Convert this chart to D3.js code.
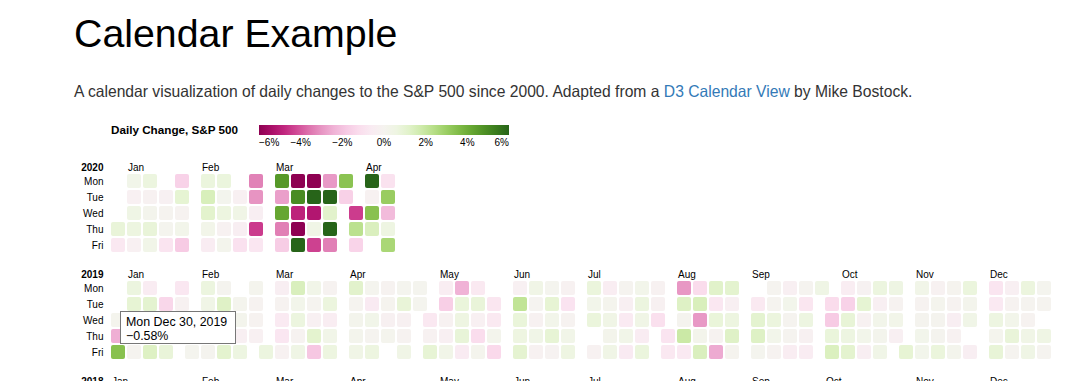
<!DOCTYPE html>
<html>
<head>
<meta charset="utf-8">
<script src="https://cdn.jsdelivr.net/npm/d3@7"></script>
<style>
  html, body { margin: 0; padding: 0; background: #fff; overflow: hidden; }
  body { width: 1079px; height: 381px; position: relative; font-family: "Liberation Sans", Arial, Helvetica, sans-serif; }
  h1 { position: absolute; left: 74px; top: 9px; margin: 0; font-weight: normal; font-size: 39.3px; color: #000; line-height: 48px; }
  p.sub { position: absolute; left: 74px; top: 82px; margin: 0; font-size: 15.66px; color: #333; line-height: 20px; white-space: nowrap; }
  p.sub a { color: #337ab7; text-decoration: none; }
  #chart { position: absolute; left: 0; top: 0; }
  #tip { position: absolute; left: 120px; top: 311px; width: 109px; height: 31px; padding: 0 0 0 5px; border: 1px solid #777; background: #fff; font-size: 12.4px; line-height: 14px; color: #000; box-sizing: content-box; }
  #tip div:first-child { margin-top: 3px; }
</style>
</head>
<body>
<h1>Calendar Example</h1>
<p class="sub">A calendar visualization of daily changes to the S&amp;P 500 since 2000. Adapted from a <a href="#">D3 Calendar View</a> by Mike Bostock.</p>
<svg id="chart" width="1052" height="381"></svg>
<div id="tip"><div>Mon Dec 30, 2019</div><div>−0.58%</div></div>
<script>
// ---------- data (daily % change of the S&P 500) ----------
const dates2020 = [
  "2020-01-02","2020-01-03","2020-01-06","2020-01-07","2020-01-08","2020-01-09","2020-01-10","2020-01-13","2020-01-14","2020-01-15","2020-01-16","2020-01-17","2020-01-21","2020-01-22","2020-01-23","2020-01-24","2020-01-27","2020-01-28","2020-01-29","2020-01-30","2020-01-31",
  "2020-02-03","2020-02-04","2020-02-05","2020-02-06","2020-02-07","2020-02-10","2020-02-11","2020-02-12","2020-02-13","2020-02-14","2020-02-18","2020-02-19","2020-02-20","2020-02-21","2020-02-24","2020-02-25","2020-02-26","2020-02-27","2020-02-28",
  "2020-03-02","2020-03-03","2020-03-04","2020-03-05","2020-03-06","2020-03-09","2020-03-10","2020-03-11","2020-03-12","2020-03-13","2020-03-16","2020-03-17","2020-03-18","2020-03-19","2020-03-20","2020-03-23","2020-03-24","2020-03-25","2020-03-26","2020-03-27","2020-03-30","2020-03-31",
  "2020-04-01","2020-04-02","2020-04-03","2020-04-06","2020-04-07","2020-04-08","2020-04-09","2020-04-13","2020-04-14","2020-04-15","2020-04-16","2020-04-17"
];
const change2020 = [
  0.84,-0.71,0.35,-0.28,0.49,0.67,-0.29,0.70,-0.15,0.19,0.84,0.39,-0.27,0.03,0.11,-0.90,-1.57,1.01,-0.09,0.31,-1.77,
  0.73,1.50,1.13,0.33,-0.54,0.73,0.17,0.65,-0.16,0.18,-0.29,0.47,-0.38,-1.05,-3.35,-3.03,-0.38,-4.42,-0.82,
  4.60,-2.81,4.22,-3.39,-1.71,-7.60,4.94,-4.89,-9.51,9.29,-11.98,6.00,-5.18,0.47,-4.34,-2.93,9.38,1.15,6.24,-3.37,3.35,-1.60,
  -4.41,2.28,-1.51,7.03,-0.16,3.41,1.45,-1.01,3.06,-2.20,0.58,2.68
];
const dates2019 = [
  "2019-01-02","2019-01-03","2019-01-04","2019-01-07","2019-01-08","2019-01-09","2019-01-10","2019-01-11","2019-01-14","2019-01-15","2019-01-16","2019-01-17","2019-01-18","2019-01-22","2019-01-23","2019-01-24","2019-01-25","2019-01-28","2019-01-29","2019-01-30","2019-01-31",
  "2019-02-01","2019-02-04","2019-02-05","2019-02-06","2019-02-07","2019-02-08","2019-02-11","2019-02-12","2019-02-13","2019-02-14","2019-02-15","2019-02-19","2019-02-20","2019-02-21","2019-02-22","2019-02-25","2019-02-26","2019-02-27","2019-02-28",
  "2019-03-01","2019-03-04","2019-03-05","2019-03-06","2019-03-07","2019-03-08","2019-03-11","2019-03-12","2019-03-13","2019-03-14","2019-03-15","2019-03-18","2019-03-19","2019-03-20","2019-03-21","2019-03-22","2019-03-25","2019-03-26","2019-03-27","2019-03-28","2019-03-29",
  "2019-04-01","2019-04-02","2019-04-03","2019-04-04","2019-04-05","2019-04-08","2019-04-09","2019-04-10","2019-04-11","2019-04-12","2019-04-15","2019-04-16","2019-04-17","2019-04-18","2019-04-22","2019-04-23","2019-04-24","2019-04-25","2019-04-26","2019-04-29","2019-04-30",
  "2019-05-01","2019-05-02","2019-05-03","2019-05-06","2019-05-07","2019-05-08","2019-05-09","2019-05-10","2019-05-13","2019-05-14","2019-05-15","2019-05-16","2019-05-17","2019-05-20","2019-05-21","2019-05-22","2019-05-23","2019-05-24","2019-05-28","2019-05-29","2019-05-30","2019-05-31",
  "2019-06-03","2019-06-04","2019-06-05","2019-06-06","2019-06-07","2019-06-10","2019-06-11","2019-06-12","2019-06-13","2019-06-14","2019-06-17","2019-06-18","2019-06-19","2019-06-20","2019-06-21","2019-06-24","2019-06-25","2019-06-26","2019-06-27","2019-06-28",
  "2019-07-01","2019-07-02","2019-07-03","2019-07-05","2019-07-08","2019-07-09","2019-07-10","2019-07-11","2019-07-12","2019-07-15","2019-07-16","2019-07-17","2019-07-18","2019-07-19","2019-07-22","2019-07-23","2019-07-24","2019-07-25","2019-07-26","2019-07-29","2019-07-30","2019-07-31",
  "2019-08-01","2019-08-02","2019-08-05","2019-08-06","2019-08-07","2019-08-08","2019-08-09","2019-08-12","2019-08-13","2019-08-14","2019-08-15","2019-08-16","2019-08-19","2019-08-20","2019-08-21","2019-08-22","2019-08-23","2019-08-26","2019-08-27","2019-08-28","2019-08-29","2019-08-30",
  "2019-09-03","2019-09-04","2019-09-05","2019-09-06","2019-09-09","2019-09-10","2019-09-11","2019-09-12","2019-09-13","2019-09-16","2019-09-17","2019-09-18","2019-09-19","2019-09-20","2019-09-23","2019-09-24","2019-09-25","2019-09-26","2019-09-27","2019-09-30",
  "2019-10-01","2019-10-02","2019-10-03","2019-10-04","2019-10-07","2019-10-08","2019-10-09","2019-10-10","2019-10-11","2019-10-14","2019-10-15","2019-10-16","2019-10-17","2019-10-18","2019-10-21","2019-10-22","2019-10-23","2019-10-24","2019-10-25","2019-10-28","2019-10-29","2019-10-30","2019-10-31",
  "2019-11-01","2019-11-04","2019-11-05","2019-11-06","2019-11-07","2019-11-08","2019-11-11","2019-11-12","2019-11-13","2019-11-14","2019-11-15","2019-11-18","2019-11-19","2019-11-20","2019-11-21","2019-11-22","2019-11-25","2019-11-26","2019-11-27","2019-11-29",
  "2019-12-02","2019-12-03","2019-12-04","2019-12-05","2019-12-06","2019-12-09","2019-12-10","2019-12-11","2019-12-12","2019-12-13","2019-12-16","2019-12-17","2019-12-18","2019-12-19","2019-12-20","2019-12-23","2019-12-24","2019-12-26","2019-12-27","2019-12-30","2019-12-31"
];
const change2019 = [
  0.13,-2.48,3.43,0.70,0.97,0.41,0.45,-0.01,-0.53,1.07,0.22,0.76,1.32,-1.42,0.22,0.14,0.85,-0.78,-0.15,1.55,0.86,
  0.09,0.68,0.47,-0.22,-0.94,0.07,0.07,1.29,0.30,-0.27,1.09,0.15,0.18,-0.35,0.64,0.12,-0.08,-0.05,-0.28,
  0.69,-0.39,-0.11,-0.65,-0.81,-0.21,1.47,0.30,0.69,-0.09,0.50,0.37,-0.01,-0.29,1.09,-1.90,-0.08,0.72,-0.46,0.36,0.67,
  1.16,0.00,0.21,0.21,0.46,0.10,-0.61,0.35,0.00,0.66,-0.06,0.05,-0.23,0.16,0.10,0.88,-0.22,-0.04,0.47,0.11,0.10,
  -0.75,-0.21,0.96,-0.45,-1.65,-0.16,-0.30,0.37,-2.41,0.80,0.58,0.89,-0.58,-0.67,0.85,-0.28,-1.19,0.14,-0.84,-0.69,0.21,-1.32,
  -0.28,2.14,0.82,0.61,1.05,0.47,-0.03,-0.20,0.41,-0.16,0.09,0.97,0.30,0.95,-0.13,-0.17,-0.95,-0.12,0.38,0.58,
  0.77,0.29,0.77,-0.18,-0.48,0.12,0.45,0.23,0.46,0.02,-0.34,-0.65,0.36,-0.62,0.28,0.68,0.47,-0.53,0.74,-0.16,-0.26,-1.09,
  -0.90,-0.73,-2.98,1.30,0.08,1.88,-0.66,-1.23,1.48,-2.93,0.25,1.44,1.21,-0.79,0.82,-0.05,-2.59,1.10,-0.32,0.65,1.27,0.06,
  -0.69,1.08,1.30,0.09,-0.01,0.03,0.72,0.29,-0.07,-0.31,0.26,0.03,0.00,-0.49,-0.01,-0.84,0.62,-0.24,-0.53,0.50,
  -1.23,-1.79,0.80,1.42,-0.45,-1.56,0.91,0.64,1.09,-0.14,1.00,-0.20,0.28,-0.39,0.69,-0.36,0.28,0.19,0.41,0.56,-0.08,0.33,-0.30,
  0.97,0.37,-0.12,0.07,0.27,0.26,-0.20,0.16,0.07,0.08,0.77,0.05,-0.06,-0.38,-0.16,0.22,0.75,0.22,0.42,-0.40,
  -0.86,-0.66,0.63,0.15,0.91,-0.32,-0.11,0.29,0.86,0.01,0.71,0.03,-0.04,0.45,0.49,0.09,-0.02,0.51,0.00,-0.58,0.29
];
const years = [2020, 2019, 2018];
const dayLabels = ["Mon", "Tue", "Wed", "Thu", "Fri"];
const legendTicks = [-6, -4, -2, 0, 2, 4, 6];
const legendTitle = "Daily Change, S&P 500";

// ---------- layout ----------
const cell = 16, rectSize = 14, monthGap = 10;
const x0 = 111, yTop0 = 174, yearStep = 107;
const parse = d3.timeParse("%Y-%m-%d");
const byYear = new Map([
  [2020, dates2020.map((d, i) => ({date: parse(d), value: change2020[i]}))],
  [2019, dates2019.map((d, i) => ({date: parse(d), value: change2019[i]}))],
  [2018, []]
]);

const color = d3.scaleSequential([-6, 6], d3.interpolatePiYG).clamp(true);
const weekOf = d => d3.timeMonday.count(d3.timeYear(d), d);
const colX = d => x0 + weekOf(d) * cell + d.getMonth() * monthGap;
const rowOf = d => (d.getDay() + 6) % 7;

const svg = d3.select("#chart");
const font = '"Liberation Sans", Arial, Helvetica, sans-serif';

// legend
const legX = d3.scaleLinear([-6, 6], [259, 509]);
const defs = svg.append("defs");
const grad = defs.append("linearGradient").attr("id", "grad");
d3.range(0, 1.0001, 0.05).forEach(t => grad.append("stop").attr("offset", t).attr("stop-color", d3.interpolatePiYG(t)));
svg.append("text").attr("x", 111).attr("y", 133.5).attr("font-family", font)
  .attr("font-size", 11.7).attr("font-weight", "bold").attr("fill", "#000").text(legendTitle);
svg.append("rect").attr("x", legX(-6)).attr("y", 125).attr("width", legX(6) - legX(-6)).attr("height", 10).attr("fill", "url(#grad)");
svg.append("g").selectAll("text").data(legendTicks).join("text")
  .attr("x", d => legX(d)).attr("y", 145.5)
  .attr("text-anchor", (d, i) => i === 0 ? "start" : i === legendTicks.length - 1 ? "end" : "middle")
  .attr("font-family", font).attr("font-size", 10).attr("fill", "#000")
  .text(d => d === 0 ? "0%" : (d < 0 ? "\u2212" + Math.abs(d) : d) + "%");

// years
years.forEach((yr, yi) => {
  const top = yTop0 + yi * yearStep;
  const g = svg.append("g");
  g.append("text").attr("x", 103.5).attr("y", top - 3.5).attr("text-anchor", "end")
    .attr("font-family", font).attr("font-size", 10).attr("font-weight", "bold").text(yr);
  g.selectAll("text.day").data(dayLabels).join("text").attr("class", "day")
    .attr("x", 103.5).attr("y", (d, i) => top + i * cell + 10.5).attr("text-anchor", "end")
    .attr("font-family", font).attr("font-size", 10).attr("fill", "#000").text(d => d);
  const months = d3.timeMonths(new Date(yr, 0, 1), new Date(yr + 1, 0, 1));
  const data = byYear.get(yr);
  const lastDate = data.length ? data[data.length - 1].date : new Date(yr, 11, 31);
  g.selectAll("text.mon").data(months.filter(m => m <= lastDate)).join("text").attr("class", "mon")
    .attr("x", m => colX(d3.timeMonday.ceil(m)) + 1).attr("y", top - 3.5)
    .attr("font-family", font).attr("font-size", 10).attr("fill", "#000")
    .text(d3.timeFormat("%b"));
  g.selectAll("rect").data(data).join("rect")
    .attr("x", d => colX(d.date)).attr("y", d => top + rowOf(d.date) * cell)
    .attr("width", rectSize).attr("height", rectSize).attr("rx", 2).attr("ry", 2)
    .attr("fill", d => color(d.value));
});
</script>
</body>
</html>
